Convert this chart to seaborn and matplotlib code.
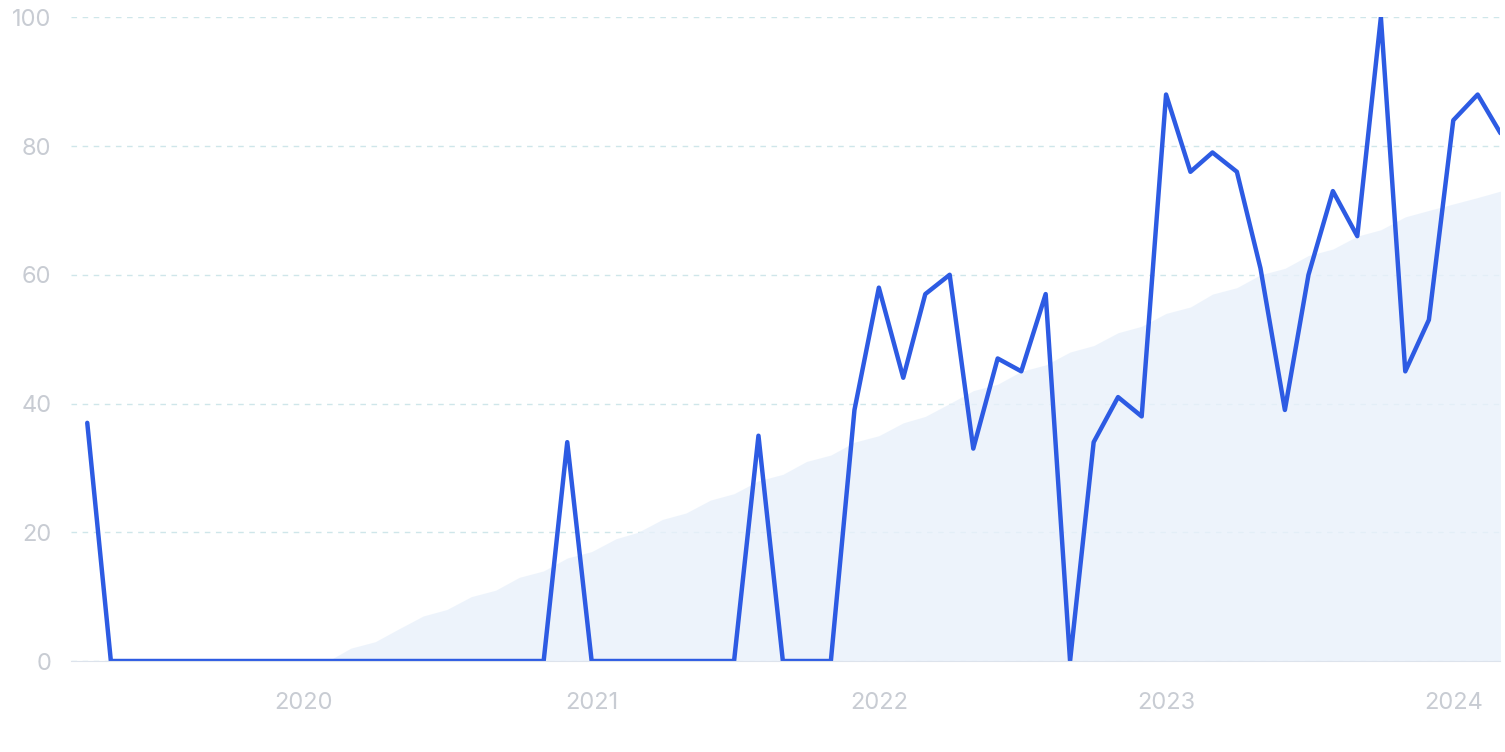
import numpy as np
import pandas as pd
import seaborn as sns
import matplotlib.pyplot as plt
import matplotlib.dates as mdates

# monthly values, Apr 2019 .. Mar 2024
months = pd.date_range("2019-04-01", periods=60, freq="MS")
interest = [37] + [0] * 19 + [34] + [0] * 7 + [35, 0, 0, 0,
            39, 58, 44, 57, 60, 33, 47, 45, 57, 0, 34, 41, 38,
            88, 76, 79, 76, 61, 39, 60, 73, 66, 100, 45, 53, 84, 88, 82]
trend = [0] * 11 + [2, 3, 5, 7, 8, 10, 11, 13, 14, 16, 17, 19, 20, 22, 23, 25,
         26, 28, 29, 31, 32, 34, 35, 37, 38, 40, 42, 43, 45, 46, 48, 49, 51,
         52, 54, 55, 57, 58, 60, 61, 63, 64, 66, 67, 69, 70, 71, 72, 73]
year_ticks = ["2020", "2021", "2022", "2023", "2024"]

df = pd.DataFrame({"month": months, "interest": interest, "trend": trend})

sns.set_style("white")
plt.rcParams['font.family'] = ['Inter', 'DejaVu Sans']
fig, ax = plt.subplots(figsize=(15.05, 7.52), dpi=100)
fig.subplots_adjust(left=0.047, right=0.997, top=0.977, bottom=0.121)

ax.fill_between(df["month"], 0, df["trend"], color="#e9f1fb", alpha=0.8, lw=0)
sns.lineplot(data=df, x="month", y="interest", ax=ax, color="#2d5be3", linewidth=3.2)

ax.set_ylim(0, 100)
ax.set_xlim(months[0] - pd.Timedelta(days=21), months[-1])
ax.set_yticks([0, 20, 40, 60, 80, 100])
ax.set_xticks(pd.to_datetime([y + "-01-01" for y in year_ticks]))
ax.xaxis.set_major_formatter(mdates.DateFormatter("%Y"))
ax.yaxis.grid(True, linestyle=(0, (4, 4)), color="#cfe6ea", linewidth=1)
ax.set_axisbelow(True)
for s in ["top", "right", "left"]:
    ax.spines[s].set_visible(False)
ax.spines["bottom"].set_color("#dde3ec")
ax.tick_params(axis="both", length=0, labelsize=17, labelcolor="#c8ccd3")
ax.tick_params(axis="x", pad=22)
ax.tick_params(axis="y", pad=14)
ax.set_xlabel("")
ax.set_ylabel("")

plt.savefig("out.png", dpi=100)
